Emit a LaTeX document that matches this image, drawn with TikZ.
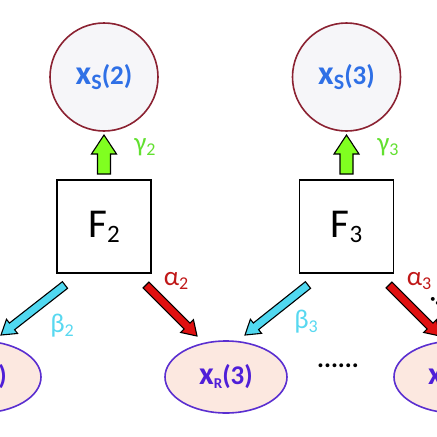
\documentclass[tikz,border=0pt]{standalone}
\usepackage{fontspec}
\setmainfont{Carlito}
\usetikzlibrary{calc,shapes.geometric}
\definecolor{circred}{HTML}{8B2232}
\definecolor{circfill}{HTML}{F6F6F9}
\definecolor{sblue}{HTML}{2F70E6}
\definecolor{rpurp}{HTML}{5A2ED0}
\definecolor{rtext}{HTML}{4F1FD8}
\definecolor{rfill}{HTML}{FCE8E0}
\definecolor{garrow}{HTML}{80FF20}
\definecolor{glabel}{HTML}{62E030}
\definecolor{carrow}{HTML}{50D8F0}
\definecolor{clabel}{HTML}{58D8F0}
\definecolor{rarrow}{HTML}{E01010}
\definecolor{rlabel}{HTML}{C01818}
\newcommand\blockarrow[6]{%
  \coordinate (ba-h) at ($(#3)!#6!(#2)$);
  \filldraw[fill=#1,draw=black,line width=1.1pt,line join=miter]
    ($(#2)!#4!90:(#3)$) -- ($(ba-h)!#4!-90:(#2)$) -- ($(ba-h)!#5!-90:(#2)$)
    -- (#3) -- ($(ba-h)!#5!90:(#2)$) -- ($(ba-h)!#4!90:(#2)$)
    -- ($(#2)!#4!-90:(#3)$) -- cycle;
}
\newcommand\xs[1]{{\fontsize{34}{36}\selectfont x}\raisebox{-4.5pt}{\fontsize{22}{22}\selectfont S}(#1)}
\newcommand\xr[1]{{\fontsize{32}{36}\selectfont x}\raisebox{-4pt}{\fontsize{15}{15}\selectfont R}(#1)}
\newcommand\flab[2]{#1\raisebox{-5pt}{\fontsize{25}{25}\selectfont #2}}
\newcommand\lab[2]{#1\raisebox{-4pt}{\fontsize{18}{18}\selectfont #2}}
\begin{document}
\begin{tikzpicture}[x=1pt,y=-1pt]
\tikzset{
  snode/.style={circle, draw=circred, fill=circfill, line width=1.6pt, minimum size=108pt, inner sep=0pt, text=sblue, font=\fontsize{27}{32}\selectfont\bfseries},
  rnode/.style={ellipse, draw=rpurp, fill=rfill, line width=1.6pt, minimum width=122pt, minimum height=72pt, inner sep=0pt, text=rtext, font=\fontsize{27}{32}\selectfont\bfseries},
  fbox/.style={rectangle, draw=black, fill=white, line width=1.5pt, minimum width=94pt, minimum height=93pt, inner sep=0pt, font=\fontsize{41}{44}\selectfont},
  glab/.style={text=glabel, font=\fontsize{27}{28}\selectfont, inner sep=0pt},
  clab/.style={text=clabel, font=\fontsize{27}{28}\selectfont, inner sep=0pt},
  rlab/.style={text=rlabel, font=\fontsize{27}{28}\selectfont, inner sep=0pt},
  dots/.style={font=\fontsize{26}{28}\selectfont\bfseries, inner sep=0pt}
}
\useasboundingbox (0,0) rectangle (437,437);
\clip (0,0) rectangle (437,437);
% nodes
\node[snode] (s2) at (104,77) {\xs{2}};
\node[snode] (s3) at (346.5,77) {\xs{3}};
\node[fbox] (f2) at (104,226.5) {\flab{F}{2}};
\node[fbox] (f3) at (346.5,226.5) {\flab{F}{3}};
\node[rnode] (r2) at (-20,377) {\xr{2}};
\node[rnode] (r3) at (226,377) {\xr{3}};
\node[rnode] (r4) at (455,377) {\xr{4}};
% arrow end points
\coordinate (g2a) at (104,174); \coordinate (g2b) at (104,135);
\coordinate (g3a) at (346.5,174); \coordinate (g3b) at (346.5,135);
\coordinate (c2a) at (65,285); \coordinate (c2b) at (1,335);
\coordinate (c3a) at (308,285); \coordinate (c3b) at (245,335);
\coordinate (a2a) at (146,285); \coordinate (a2b) at (197,336);
\coordinate (a3a) at (389,285); \coordinate (a3b) at (440,336);
\blockarrow{garrow}{g2a}{g2b}{6.5pt}{12.5pt}{19pt}
\blockarrow{garrow}{g3a}{g3b}{6.5pt}{12.5pt}{19pt}
\blockarrow{carrow}{c2a}{c2b}{4.2pt}{9pt}{14pt}
\blockarrow{carrow}{c3a}{c3b}{4.2pt}{9pt}{14pt}
\blockarrow{rarrow}{a2a}{a2b}{4.2pt}{9pt}{14pt}
\blockarrow{rarrow}{a3a}{a3b}{4.2pt}{9pt}{14pt}
% labels
\node[glab] (lg2) at (145,147) {\lab{γ}{2}};
\node[glab] (lg3) at (388,147) {\lab{γ}{3}};
\node[clab] (lb2) at (62,326) {\lab{β}{2}};
\node[clab] (lb3) at (306,322) {\lab{β}{3}};
\node[rlab] (la2) at (176,281) {\lab{α}{2}};
\node[rlab] (la3) at (419,281) {\lab{α}{3}};
\node[dots] (d1) at (338,366) {......};
\node[dots, rotate=-40, anchor=west] (d2) at (430,297) {...};
\end{tikzpicture}
\end{document}
